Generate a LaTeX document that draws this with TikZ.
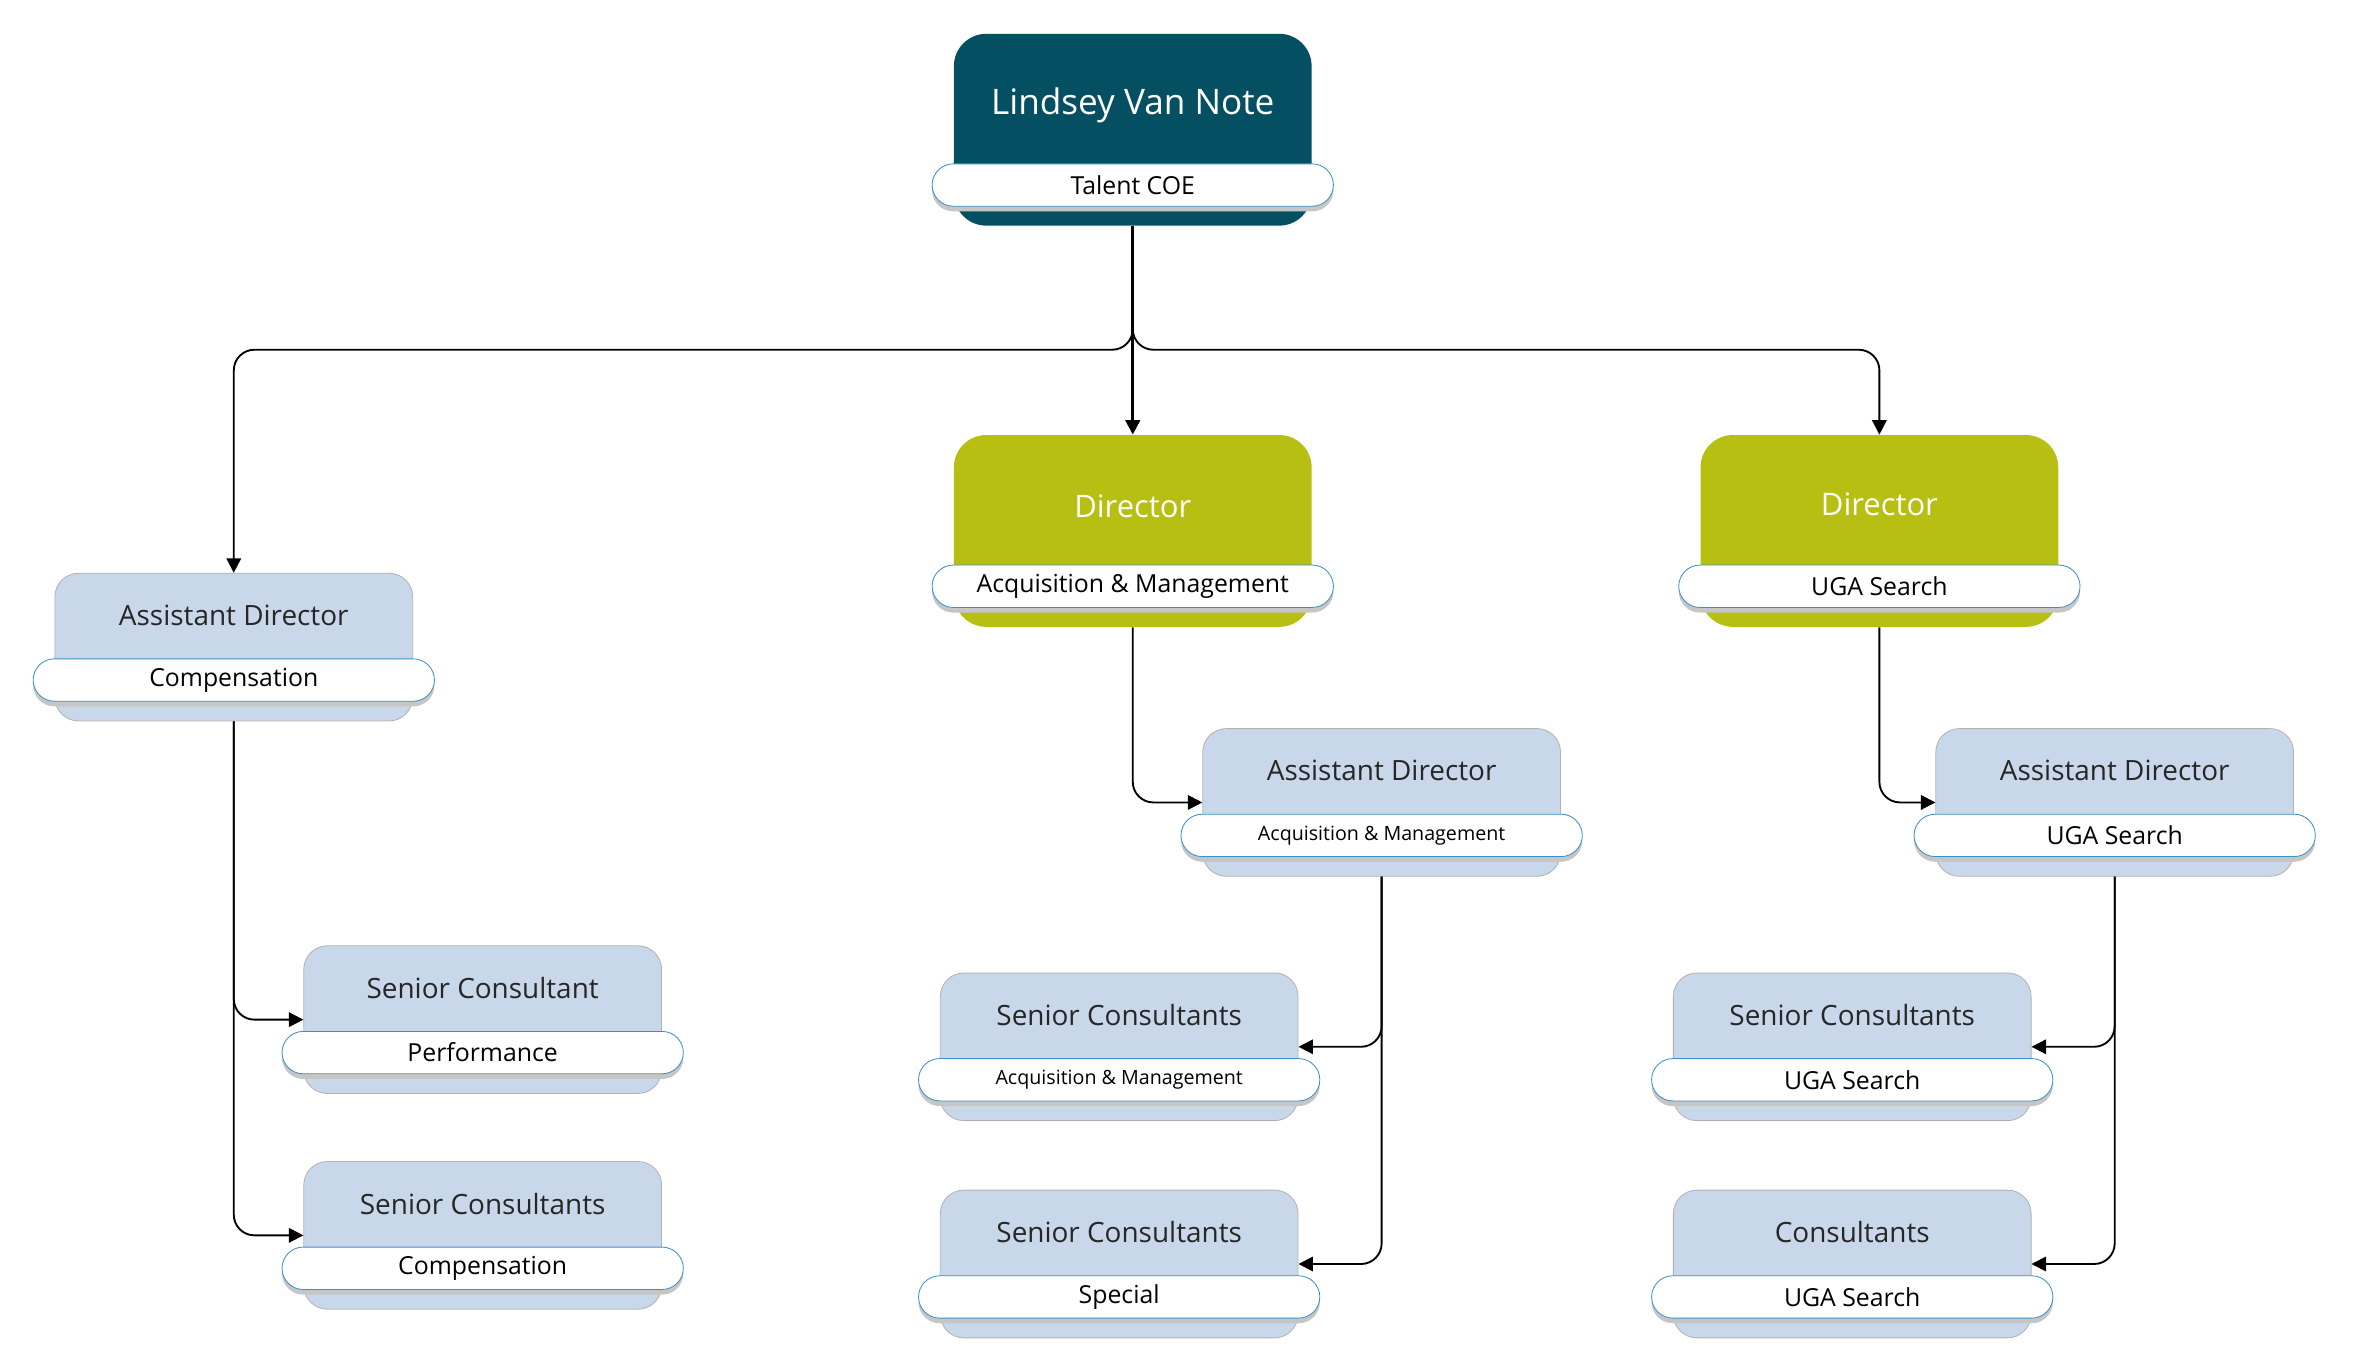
\documentclass[tikz,border=0pt]{standalone}
\usepackage{fontspec}
\setmainfont{Open Sans}
\usetikzlibrary{arrows.meta}
\usetikzlibrary{shadows}
\usetikzlibrary{positioning}
\definecolor{coeteal}{HTML}{054F63}
\definecolor{dirgreen}{HTML}{B7BF12}
\definecolor{adblue}{HTML}{C8D8EA}
\definecolor{pillblue}{HTML}{3C8FC6}
\tikzset{
  bigbox/.style={draw=none, rounded corners=0.55cm, minimum width=6.08cm, minimum height=3.26cm},
  smallbox/.style={draw=gray!60, fill=adblue, rounded corners=0.4cm, minimum width=6.08cm, minimum height=2.51cm},
  pill/.style={draw=pillblue, fill=white, rounded corners=0.36cm, minimum width=6.82cm, minimum height=0.72cm,
    inner sep=0pt, font=\fontsize{12}{14}\selectfont,
    drop shadow={shadow xshift=0pt, shadow yshift=-2.5pt, fill=gray!45, opacity=1}},
  smallpill/.style={pill, font=\fontsize{9.5}{11}\selectfont},
  bigtitle/.style={font=\fontsize{15}{18}\selectfont, text=white},
  title/.style={font=\fontsize{13.5}{16}\selectfont, text=black!85},
  conn/.style={draw=black, line width=0.9pt, rounded corners=0.35cm, -{Triangle[length=7pt,width=7pt]}},
}
\begin{document}
\begin{tikzpicture}[x=0.02564cm, y=-0.02564cm]
\useasboundingbox (0,0) rectangle (1560,895);

% head
\node[bigbox, fill=coeteal] (lvn) at (751,86) {};
\node[bigtitle, font=\fontsize{17}{20}\selectfont] at ([yshift=0.42cm]lvn.center) {Lindsey Van Note};
\node[pill] (lvn-s) at ([yshift=-0.94cm]lvn.center) {Talent COE};

% directors
\node[bigbox, fill=dirgreen] (dir-acq) at (751,352) {};
\node[bigtitle] at ([yshift=0.42cm]dir-acq.center) {Director};
\node[pill] (dir-acq-s) at ([yshift=-0.94cm]dir-acq.center) {Acquisition \& Management};

\node[bigbox, fill=dirgreen] (dir-uga) at (1246,352) {};
\node[bigtitle] at ([yshift=0.45cm]dir-uga.center) {Director};
\node[pill] (dir-uga-s) at ([yshift=-0.94cm]dir-uga.center) {UGA Search};

% compensation branch
\node[smallbox] (ad-comp) at (155,429) {};
\node[title] at ([yshift=0.54cm]ad-comp.center) {Assistant Director};
\node[pill] (ad-comp-s) at ([yshift=-0.56cm]ad-comp.center) {Compensation};

\node[smallbox] (sc-perf) at (320,676) {};
\node[title] at ([yshift=0.54cm]sc-perf.center) {Senior Consultant};
\node[pill] (sc-perf-s) at ([yshift=-0.56cm]sc-perf.center) {Performance};

\node[smallbox] (sc-comp) at (320,819) {};
\node[title] at ([yshift=0.54cm]sc-comp.center) {Senior Consultants};
\node[pill] (sc-comp-s) at ([yshift=-0.56cm]sc-comp.center) {Compensation};

% acquisition branch
\node[smallbox] (ad-acq) at (916,532) {};
\node[title] at ([yshift=0.54cm]ad-acq.center) {Assistant Director};
\node[smallpill] (ad-acq-s) at ([yshift=-0.56cm]ad-acq.center) {Acquisition \& Management};

\node[smallbox] (sc-acq) at (742,694) {};
\node[title] at ([yshift=0.54cm]sc-acq.center) {Senior Consultants};
\node[smallpill] (sc-acq-s) at ([yshift=-0.56cm]sc-acq.center) {Acquisition \& Management};

\node[smallbox] (sc-spec) at (742,838) {};
\node[title] at ([yshift=0.54cm]sc-spec.center) {Senior Consultants};
\node[pill] (sc-spec-s) at ([yshift=-0.56cm]sc-spec.center) {Special};

% uga branch
\node[smallbox] (ad-uga) at (1402,532) {};
\node[title] at ([yshift=0.54cm]ad-uga.center) {Assistant Director};
\node[pill] (ad-uga-s) at ([yshift=-0.56cm]ad-uga.center) {UGA Search};

\node[smallbox] (sc-uga) at (1228,694) {};
\node[title] at ([yshift=0.54cm]sc-uga.center) {Senior Consultants};
\node[pill] (sc-uga-s) at ([yshift=-0.56cm]sc-uga.center) {UGA Search};

\node[smallbox] (con-uga) at (1228,838) {};
\node[title] at ([yshift=0.54cm]con-uga.center) {Consultants};
\node[pill] (con-uga-s) at ([yshift=-0.56cm]con-uga.center) {UGA Search};

% connectors
\draw[conn, line width=1.4pt] (lvn.south) -- (dir-acq.north);
\draw[conn] (lvn.south) -- ++(0,82) -| (ad-comp.north);
\draw[conn] (lvn.south) -- ++(0,82) -| (dir-uga.north);

\draw[conn] (ad-comp.south) |- (sc-perf.west);
\draw[conn] (ad-comp.south) |- (sc-comp.west);

\draw[conn] (dir-acq.south) |- (ad-acq.west);
\draw[conn] (ad-acq.south) |- (sc-acq.east);
\draw[conn] (ad-acq.south) |- (sc-spec.east);

\draw[conn] (dir-uga.south) |- (ad-uga.west);
\draw[conn] (ad-uga.south) |- (sc-uga.east);
\draw[conn] (ad-uga.south) |- (con-uga.east);

\end{tikzpicture}
\end{document}
